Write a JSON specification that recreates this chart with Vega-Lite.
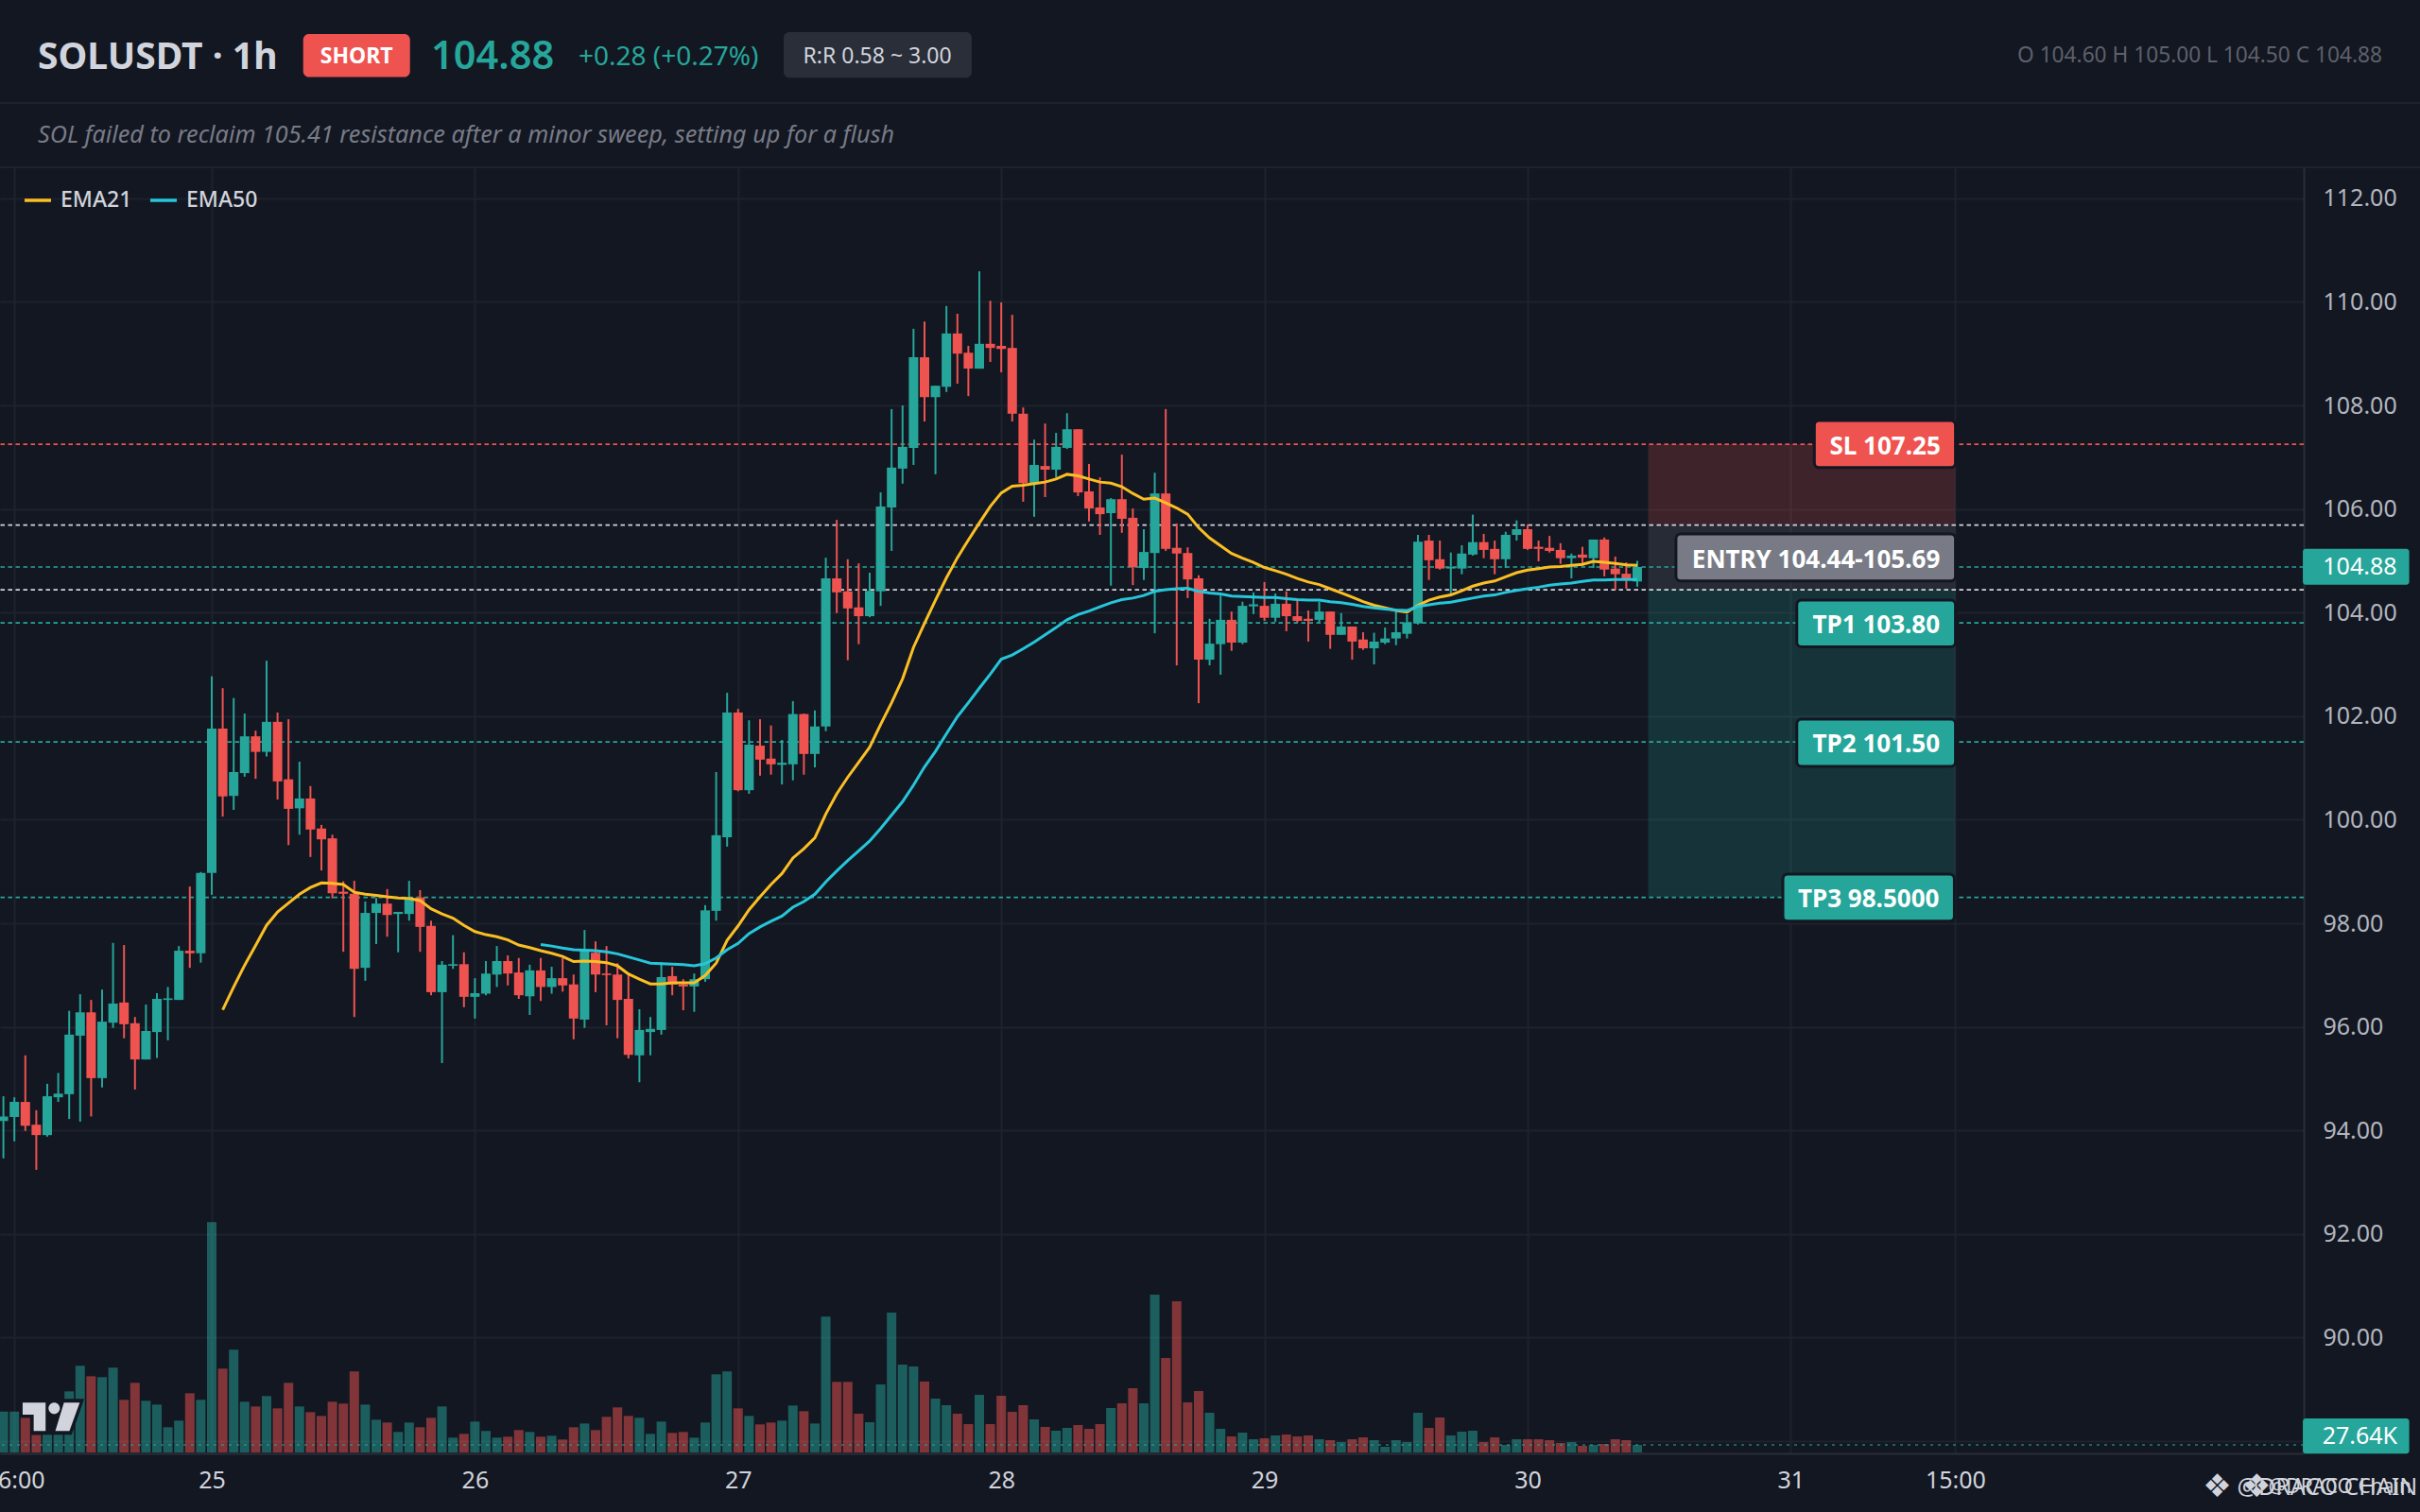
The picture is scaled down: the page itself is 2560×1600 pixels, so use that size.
{"$schema":"https://vega.github.io/schema/vega-lite/v6.json","width":2437,"height":1361,"autosize":{"type":"none"},"padding":{"left":0,"top":177,"right":123,"bottom":62},"background":"#131722","config":{"font":"Noto Sans","view":{"stroke":null}},
"title":{"text":"SOLUSDT · 1h","subtitle":"SOL failed to reclaim 105.41 resistance after a minor sweep, setting up for a flush","anchor":"start","frame":"group","dx":40,"dy":142,"offset":20,"color":"#d1d4dc","fontSize":39,"fontWeight":700,"subtitleColor":"#787b86","subtitleFontSize":25.2,"subtitleFontStyle":"italic","subtitlePadding":50},
"datasets":{"candles":[
{"hour":-19,"open":94.18,"high":94.66,"low":93.46,"close":94.27,"volume":149.5},
{"hour":-18,"open":94.26,"high":94.64,"low":93.79,"close":94.55,"volume":149.5},
{"hour":-17,"open":94.55,"high":95.45,"low":93.99,"close":94.09,"volume":126.5},
{"hour":-16,"open":94.11,"high":94.39,"low":93.24,"close":93.91,"volume":64.4},
{"hour":-15,"open":93.91,"high":94.90,"low":93.88,"close":94.66,"volume":138},
{"hour":-14,"open":94.64,"high":95.11,"low":94.55,"close":94.71,"volume":161},
{"hour":-13,"open":94.70,"high":96.31,"low":94.22,"close":95.85,"volume":223.1},
{"hour":-12,"open":95.83,"high":96.63,"low":94.17,"close":96.28,"volume":316.3},
{"hour":-11,"open":96.28,"high":96.52,"low":94.27,"close":95.01,"volume":278.3},
{"hour":-10,"open":95.01,"high":96.72,"low":94.83,"close":96.10,"volume":274.9},
{"hour":-9,"open":96.08,"high":97.62,"low":95.98,"close":96.45,"volume":309.4},
{"hour":-8,"open":96.47,"high":97.58,"low":95.78,"close":96.05,"volume":192.1},
{"hour":-7,"open":96.07,"high":96.19,"low":94.79,"close":95.37,"volume":254.2},
{"hour":-6,"open":95.37,"high":96.43,"low":95.37,"close":95.92,"volume":188.6},
{"hour":-5,"open":95.90,"high":96.65,"low":95.40,"close":96.54,"volume":174.8},
{"hour":-4,"open":96.52,"high":96.77,"low":95.74,"close":96.55,"volume":92},
{"hour":-3,"open":96.52,"high":97.56,"low":96.52,"close":97.47,"volume":116.2},
{"hour":-2,"open":97.47,"high":98.71,"low":97.14,"close":97.42,"volume":216.2},
{"hour":-1,"open":97.42,"high":98.99,"low":97.24,"close":98.97,"volume":192.1},
{"hour":0,"open":98.97,"high":102.77,"low":98.55,"close":101.76,"volume":840.7},
{"hour":1,"open":101.76,"high":102.54,"low":100.06,"close":100.45,"volume":305.9},
{"hour":2,"open":100.46,"high":102.35,"low":100.19,"close":100.92,"volume":374.9},
{"hour":3,"open":100.90,"high":102.05,"low":100.83,"close":101.61,"volume":185.2},
{"hour":4,"open":101.61,"high":101.72,"low":100.79,"close":101.31,"volume":167.9},
{"hour":5,"open":101.31,"high":103.07,"low":101.22,"close":101.89,"volume":205.9},
{"hour":6,"open":101.89,"high":102.07,"low":100.39,"close":100.74,"volume":161},
{"hour":7,"open":100.78,"high":101.94,"low":99.51,"close":100.21,"volume":254.2},
{"hour":8,"open":100.22,"high":101.12,"low":99.71,"close":100.41,"volume":167.9},
{"hour":9,"open":100.41,"high":100.65,"low":99.28,"close":99.81,"volume":147.2},
{"hour":10,"open":99.83,"high":99.90,"low":99.02,"close":99.62,"volume":133.4},
{"hour":11,"open":99.64,"high":99.71,"low":98.48,"close":98.58,"volume":185.2},
{"hour":12,"open":98.61,"high":98.81,"low":97.45,"close":98.57,"volume":178.3},
{"hour":13,"open":98.57,"high":98.82,"low":96.19,"close":97.12,"volume":295.6},
{"hour":14,"open":97.14,"high":98.42,"low":96.89,"close":98.20,"volume":174.8},
{"hour":15,"open":98.20,"high":98.49,"low":97.60,"close":98.38,"volume":119.6},
{"hour":16,"open":98.38,"high":98.66,"low":97.74,"close":98.16,"volume":109.3},
{"hour":17,"open":98.18,"high":98.22,"low":97.44,"close":98.22,"volume":74.8},
{"hour":18,"open":98.18,"high":98.82,"low":98.05,"close":98.48,"volume":109.3},
{"hour":19,"open":98.50,"high":98.64,"low":97.45,"close":97.93,"volume":92},
{"hour":20,"open":97.95,"high":98.05,"low":96.61,"close":96.67,"volume":126.5},
{"hour":21,"open":96.67,"high":97.27,"low":95.30,"close":97.20,"volume":167.9},
{"hour":22,"open":97.18,"high":97.77,"low":97.12,"close":97.21,"volume":54.1},
{"hour":23,"open":97.21,"high":97.44,"low":96.38,"close":96.58,"volume":67.9},
{"hour":24,"open":96.58,"high":96.94,"low":96.16,"close":96.65,"volume":112.7},
{"hour":25,"open":96.64,"high":97.27,"low":96.61,"close":97.03,"volume":78.2},
{"hour":26,"open":97.01,"high":97.56,"low":96.77,"close":97.27,"volume":54.1},
{"hour":27,"open":97.27,"high":97.38,"low":96.80,"close":97.03,"volume":57.5},
{"hour":28,"open":97.05,"high":97.33,"low":96.54,"close":96.61,"volume":81.7},
{"hour":29,"open":96.59,"high":97.20,"low":96.23,"close":97.09,"volume":74.8},
{"hour":30,"open":97.09,"high":97.33,"low":96.50,"close":96.77,"volume":57.5},
{"hour":31,"open":96.77,"high":97.16,"low":96.64,"close":96.94,"volume":61},
{"hour":32,"open":96.94,"high":97.33,"low":96.68,"close":96.80,"volume":47.2},
{"hour":33,"open":96.82,"high":97.01,"low":95.76,"close":96.16,"volume":92},
{"hour":34,"open":96.14,"high":97.87,"low":95.98,"close":97.49,"volume":105.8},
{"hour":35,"open":97.43,"high":97.65,"low":96.67,"close":97.01,"volume":81.7},
{"hour":36,"open":97.03,"high":97.56,"low":96.03,"close":97.00,"volume":130},
{"hour":37,"open":97.01,"high":97.23,"low":95.78,"close":96.52,"volume":164.5},
{"hour":38,"open":96.54,"high":97.00,"low":95.39,"close":95.46,"volume":133.4},
{"hour":39,"open":95.45,"high":96.34,"low":94.93,"close":95.94,"volume":126.5},
{"hour":40,"open":95.90,"high":96.19,"low":95.45,"close":95.96,"volume":67.9},
{"hour":41,"open":95.94,"high":97.25,"low":95.85,"close":96.96,"volume":112.7},
{"hour":42,"open":96.98,"high":97.16,"low":96.61,"close":96.82,"volume":71.3},
{"hour":43,"open":96.82,"high":96.92,"low":96.32,"close":96.78,"volume":74.8},
{"hour":44,"open":96.78,"high":97.03,"low":96.29,"close":96.92,"volume":54.1},
{"hour":45,"open":96.92,"high":98.35,"low":96.87,"close":98.25,"volume":109.3},
{"hour":46,"open":98.24,"high":100.92,"low":98.05,"close":99.70,"volume":285.2},
{"hour":47,"open":99.66,"high":102.45,"low":99.48,"close":102.07,"volume":295.6},
{"hour":48,"open":102.07,"high":102.14,"low":100.55,"close":100.57,"volume":161},
{"hour":49,"open":100.57,"high":101.92,"low":100.50,"close":101.45,"volume":133.4},
{"hour":50,"open":101.43,"high":101.94,"low":100.85,"close":101.16,"volume":102.4},
{"hour":51,"open":101.18,"high":101.82,"low":100.87,"close":101.07,"volume":109.3},
{"hour":52,"open":101.06,"high":101.54,"low":100.68,"close":101.10,"volume":116.2},
{"hour":53,"open":101.07,"high":102.29,"low":100.76,"close":102.04,"volume":171.4},
{"hour":54,"open":102.04,"high":102.05,"low":100.87,"close":101.27,"volume":150.7},
{"hour":55,"open":101.27,"high":102.11,"low":101.01,"close":101.80,"volume":105.8},
{"hour":56,"open":101.80,"high":105.06,"low":101.71,"close":104.66,"volume":495.7},
{"hour":57,"open":104.66,"high":105.79,"low":103.99,"close":104.39,"volume":257.6},
{"hour":58,"open":104.41,"high":105.03,"low":103.08,"close":104.08,"volume":257.6},
{"hour":59,"open":104.10,"high":104.95,"low":103.39,"close":103.93,"volume":141.5},
{"hour":60,"open":103.93,"high":104.77,"low":103.91,"close":104.42,"volume":110.4},
{"hour":61,"open":104.41,"high":106.32,"low":104.13,"close":106.05,"volume":248.4},
{"hour":62,"open":106.03,"high":107.93,"low":105.19,"close":106.80,"volume":510.6},
{"hour":63,"open":106.78,"high":108.00,"low":106.49,"close":107.20,"volume":320.9},
{"hour":64,"open":107.18,"high":109.48,"low":106.85,"close":108.93,"volume":314},
{"hour":65,"open":108.93,"high":109.62,"low":107.69,"close":108.16,"volume":258.8},
{"hour":66,"open":108.16,"high":108.38,"low":106.67,"close":108.38,"volume":196.7},
{"hour":67,"open":108.36,"high":109.92,"low":108.26,"close":109.39,"volume":172.5},
{"hour":68,"open":109.39,"high":109.77,"low":108.42,"close":109.00,"volume":141.5},
{"hour":69,"open":109.02,"high":109.15,"low":108.18,"close":108.71,"volume":103.5},
{"hour":70,"open":108.71,"high":110.59,"low":108.71,"close":109.19,"volume":210.5},
{"hour":71,"open":109.19,"high":110.02,"low":108.84,"close":109.11,"volume":103.5},
{"hour":72,"open":109.15,"high":109.99,"low":108.64,"close":109.09,"volume":207},
{"hour":73,"open":109.11,"high":109.75,"low":107.69,"close":107.84,"volume":148.4},
{"hour":74,"open":107.84,"high":107.96,"low":106.14,"close":106.50,"volume":172.5},
{"hour":75,"open":106.50,"high":107.34,"low":105.85,"close":106.85,"volume":120.8},
{"hour":76,"open":106.83,"high":107.65,"low":106.23,"close":106.76,"volume":93.2},
{"hour":77,"open":106.76,"high":107.47,"low":106.60,"close":107.20,"volume":79.4},
{"hour":78,"open":107.18,"high":107.85,"low":107.16,"close":107.54,"volume":89.7},
{"hour":79,"open":107.54,"high":107.54,"low":106.25,"close":106.32,"volume":100.1},
{"hour":80,"open":106.34,"high":106.87,"low":105.76,"close":106.01,"volume":86.3},
{"hour":81,"open":106.03,"high":106.61,"low":105.50,"close":105.90,"volume":103.5},
{"hour":82,"open":105.92,"high":106.21,"low":104.52,"close":106.19,"volume":162.2},
{"hour":83,"open":106.19,"high":107.05,"low":105.54,"close":105.81,"volume":179.4},
{"hour":84,"open":105.83,"high":106.01,"low":104.53,"close":104.88,"volume":234.6},
{"hour":85,"open":104.86,"high":105.61,"low":104.63,"close":105.17,"volume":179.4},
{"hour":86,"open":105.15,"high":106.70,"low":103.60,"close":106.30,"volume":576.2},
{"hour":87,"open":106.30,"high":107.93,"low":105.19,"close":105.23,"volume":345},
{"hour":88,"open":105.25,"high":105.72,"low":102.98,"close":105.14,"volume":552},
{"hour":89,"open":105.15,"high":105.26,"low":104.28,"close":104.64,"volume":182.9},
{"hour":90,"open":104.66,"high":104.72,"low":102.25,"close":103.09,"volume":224.3},
{"hour":91,"open":103.09,"high":103.88,"low":102.98,"close":103.40,"volume":144.9},
{"hour":92,"open":103.39,"high":104.33,"low":102.80,"close":103.86,"volume":86.3},
{"hour":93,"open":103.86,"high":104.02,"low":103.26,"close":103.42,"volume":58.7},
{"hour":94,"open":103.42,"high":104.21,"low":103.39,"close":104.13,"volume":72.5},
{"hour":95,"open":104.12,"high":104.39,"low":103.97,"close":104.16,"volume":48.3},
{"hour":96,"open":104.13,"high":104.59,"low":103.84,"close":103.90,"volume":51.8},
{"hour":97,"open":103.90,"high":104.37,"low":103.82,"close":104.17,"volume":62.1},
{"hour":98,"open":104.17,"high":104.41,"low":103.64,"close":103.93,"volume":65.6},
{"hour":99,"open":103.93,"high":104.24,"low":103.81,"close":103.84,"volume":58.7},
{"hour":100,"open":103.88,"high":104.04,"low":103.44,"close":103.84,"volume":62.1},
{"hour":101,"open":103.86,"high":104.21,"low":103.81,"close":104.02,"volume":48.3},
{"hour":102,"open":104.02,"high":104.02,"low":103.30,"close":103.57,"volume":44.9},
{"hour":103,"open":103.57,"high":103.99,"low":103.57,"close":103.73,"volume":38},
{"hour":104,"open":103.73,"high":103.73,"low":103.09,"close":103.44,"volume":48.3},
{"hour":105,"open":103.48,"high":103.62,"low":103.28,"close":103.31,"volume":55.2},
{"hour":106,"open":103.31,"high":103.61,"low":103.00,"close":103.44,"volume":44.9},
{"hour":107,"open":103.42,"high":103.71,"low":103.39,"close":103.50,"volume":20.7},
{"hour":108,"open":103.50,"high":104.02,"low":103.37,"close":103.62,"volume":44.9},
{"hour":109,"open":103.59,"high":103.97,"low":103.50,"close":103.81,"volume":38},
{"hour":110,"open":103.79,"high":105.50,"low":103.77,"close":105.37,"volume":144.9},
{"hour":111,"open":105.39,"high":105.50,"low":104.63,"close":105.01,"volume":89.7},
{"hour":112,"open":105.03,"high":105.39,"low":104.83,"close":104.85,"volume":127.7},
{"hour":113,"open":104.85,"high":105.16,"low":104.35,"close":104.88,"volume":62.1},
{"hour":114,"open":104.85,"high":105.30,"low":104.74,"close":105.14,"volume":75.9},
{"hour":115,"open":105.12,"high":105.89,"low":105.10,"close":105.36,"volume":79.4},
{"hour":116,"open":105.36,"high":105.52,"low":105.05,"close":105.21,"volume":38},
{"hour":117,"open":105.23,"high":105.39,"low":104.74,"close":105.03,"volume":55.2},
{"hour":118,"open":105.03,"high":105.56,"low":104.86,"close":105.50,"volume":27.6},
{"hour":119,"open":105.50,"high":105.78,"low":105.39,"close":105.61,"volume":48.3},
{"hour":120,"open":105.61,"high":105.70,"low":105.21,"close":105.23,"volume":48.3},
{"hour":121,"open":105.27,"high":105.39,"low":104.99,"close":105.23,"volume":48.3},
{"hour":122,"open":105.25,"high":105.48,"low":105.16,"close":105.19,"volume":44.9},
{"hour":123,"open":105.21,"high":105.34,"low":104.94,"close":105.05,"volume":34.5},
{"hour":124,"open":105.05,"high":105.14,"low":104.66,"close":105.10,"volume":38},
{"hour":125,"open":105.12,"high":105.27,"low":104.90,"close":105.06,"volume":24.2},
{"hour":126,"open":105.05,"high":105.41,"low":104.86,"close":105.41,"volume":27.6},
{"hour":127,"open":105.41,"high":105.45,"low":104.70,"close":104.83,"volume":31.1},
{"hour":128,"open":104.85,"high":105.08,"low":104.44,"close":104.74,"volume":48.3},
{"hour":129,"open":104.75,"high":104.97,"low":104.46,"close":104.64,"volume":44.9},
{"hour":130,"open":104.60,"high":105.00,"low":104.50,"close":104.88,"volume":27.64}
],
"ema":[
{"hour":1,"EMA21":96.33,"EMA50":null},{"hour":2,"EMA21":96.77,"EMA50":null},{"hour":3,"EMA21":97.19,"EMA50":null},{"hour":4,"EMA21":97.57,"EMA50":null},{"hour":5,"EMA21":97.96,"EMA50":null},{"hour":6,"EMA21":98.22,"EMA50":null},{"hour":7,"EMA21":98.39,"EMA50":null},{"hour":8,"EMA21":98.56,"EMA50":null},{"hour":9,"EMA21":98.69,"EMA50":null},{"hour":10,"EMA21":98.78,"EMA50":null},{"hour":11,"EMA21":98.77,"EMA50":null},{"hour":12,"EMA21":98.75,"EMA50":null},{"hour":13,"EMA21":98.60,"EMA50":null},{"hour":14,"EMA21":98.56,"EMA50":null},{"hour":15,"EMA21":98.54,"EMA50":null},{"hour":16,"EMA21":98.51,"EMA50":null},{"hour":17,"EMA21":98.49,"EMA50":null},{"hour":18,"EMA21":98.48,"EMA50":null},{"hour":19,"EMA21":98.44,"EMA50":null},{"hour":20,"EMA21":98.28,"EMA50":null},{"hour":21,"EMA21":98.18,"EMA50":null},{"hour":22,"EMA21":98.10,"EMA50":null},{"hour":23,"EMA21":97.96,"EMA50":null},{"hour":24,"EMA21":97.84,"EMA50":null},{"hour":25,"EMA21":97.78,"EMA50":null},{"hour":26,"EMA21":97.74,"EMA50":null},{"hour":27,"EMA21":97.68,"EMA50":null},{"hour":28,"EMA21":97.58,"EMA50":null},{"hour":29,"EMA21":97.53,"EMA50":null},
{"hour":30,"EMA21":97.47,"EMA50":97.59},{"hour":31,"EMA21":97.42,"EMA50":97.56},{"hour":32,"EMA21":97.36,"EMA50":97.52},{"hour":33,"EMA21":97.26,"EMA50":97.49},{"hour":34,"EMA21":97.27,"EMA50":97.48},{"hour":35,"EMA21":97.26,"EMA50":97.47},{"hour":36,"EMA21":97.24,"EMA50":97.45},{"hour":37,"EMA21":97.18,"EMA50":97.41},{"hour":38,"EMA21":97.02,"EMA50":97.35},{"hour":39,"EMA21":96.92,"EMA50":97.29},{"hour":40,"EMA21":96.83,"EMA50":97.23},{"hour":41,"EMA21":96.83,"EMA50":97.22},{"hour":42,"EMA21":96.85,"EMA50":97.21},{"hour":43,"EMA21":96.85,"EMA50":97.20},{"hour":44,"EMA21":96.85,"EMA50":97.18},{"hour":45,"EMA21":96.99,"EMA50":97.22},{"hour":46,"EMA21":97.23,"EMA50":97.33},{"hour":47,"EMA21":97.67,"EMA50":97.49},{"hour":48,"EMA21":97.95,"EMA50":97.61},{"hour":49,"EMA21":98.26,"EMA50":97.80},{"hour":50,"EMA21":98.51,"EMA50":97.93},{"hour":51,"EMA21":98.75,"EMA50":98.04},{"hour":52,"EMA21":98.96,"EMA50":98.14},{"hour":53,"EMA21":99.26,"EMA50":98.31},{"hour":54,"EMA21":99.44,"EMA50":98.42},{"hour":55,"EMA21":99.65,"EMA50":98.56},{"hour":56,"EMA21":100.11,"EMA50":98.80},{"hour":57,"EMA21":100.50,"EMA50":99.01},{"hour":58,"EMA21":100.82,"EMA50":99.21},{"hour":59,"EMA21":101.11,"EMA50":99.40},{"hour":60,"EMA21":101.40,"EMA50":99.59},{"hour":61,"EMA21":101.84,"EMA50":99.83},{"hour":62,"EMA21":102.26,"EMA50":100.09},{"hour":63,"EMA21":102.72,"EMA50":100.35},{"hour":64,"EMA21":103.33,"EMA50":100.67},{"hour":65,"EMA21":103.79,"EMA50":101.02},{"hour":66,"EMA21":104.24,"EMA50":101.32},{"hour":67,"EMA21":104.67,"EMA50":101.66},{"hour":68,"EMA21":105.06,"EMA50":101.99},{"hour":69,"EMA21":105.40,"EMA50":102.26},{"hour":70,"EMA21":105.73,"EMA50":102.54},{"hour":71,"EMA21":106.05,"EMA50":102.81},{"hour":72,"EMA21":106.31,"EMA50":103.10},{"hour":73,"EMA21":106.44,"EMA50":103.18},{"hour":74,"EMA21":106.46,"EMA50":103.30},{"hour":75,"EMA21":106.49,"EMA50":103.43},{"hour":76,"EMA21":106.52,"EMA50":103.57},{"hour":77,"EMA21":106.58,"EMA50":103.71},{"hour":78,"EMA21":106.67,"EMA50":103.86},{"hour":79,"EMA21":106.64,"EMA50":103.96},{"hour":80,"EMA21":106.58,"EMA50":104.03},{"hour":81,"EMA21":106.52,"EMA50":104.11},{"hour":82,"EMA21":106.50,"EMA50":104.19},{"hour":83,"EMA21":106.43,"EMA50":104.25},{"hour":84,"EMA21":106.30,"EMA50":104.28},{"hour":85,"EMA21":106.19,"EMA50":104.33},{"hour":86,"EMA21":106.21,"EMA50":104.41},{"hour":87,"EMA21":106.12,"EMA50":104.44},{"hour":88,"EMA21":106.02,"EMA50":104.46},{"hour":89,"EMA21":105.90,"EMA50":104.47},{"hour":90,"EMA21":105.64,"EMA50":104.41},{"hour":91,"EMA21":105.44,"EMA50":104.38},{"hour":92,"EMA21":105.29,"EMA50":104.36},{"hour":93,"EMA21":105.14,"EMA50":104.32},{"hour":94,"EMA21":105.05,"EMA50":104.31},{"hour":95,"EMA21":104.97,"EMA50":104.30},{"hour":96,"EMA21":104.87,"EMA50":104.29},{"hour":97,"EMA21":104.81,"EMA50":104.29},{"hour":98,"EMA21":104.74,"EMA50":104.27},{"hour":99,"EMA21":104.66,"EMA50":104.25},{"hour":100,"EMA21":104.59,"EMA50":104.24},{"hour":101,"EMA21":104.54,"EMA50":104.24},{"hour":102,"EMA21":104.46,"EMA50":104.21},{"hour":103,"EMA21":104.38,"EMA50":104.19},{"hour":104,"EMA21":104.30,"EMA50":104.16},{"hour":105,"EMA21":104.21,"EMA50":104.12},{"hour":106,"EMA21":104.14,"EMA50":104.09},{"hour":107,"EMA21":104.09,"EMA50":104.07},{"hour":108,"EMA21":104.04,"EMA50":104.05},{"hour":109,"EMA21":104.01,"EMA50":104.04},{"hour":110,"EMA21":104.14,"EMA50":104.12},{"hour":111,"EMA21":104.24,"EMA50":104.15},{"hour":112,"EMA21":104.30,"EMA50":104.18},{"hour":113,"EMA21":104.34,"EMA50":104.20},{"hour":114,"EMA21":104.42,"EMA50":104.24},{"hour":115,"EMA21":104.51,"EMA50":104.28},{"hour":116,"EMA21":104.57,"EMA50":104.32},{"hour":117,"EMA21":104.61,"EMA50":104.34},{"hour":118,"EMA21":104.69,"EMA50":104.39},{"hour":119,"EMA21":104.77,"EMA50":104.43},{"hour":120,"EMA21":104.82,"EMA50":104.46},{"hour":121,"EMA21":104.85,"EMA50":104.49},{"hour":122,"EMA21":104.88,"EMA50":104.53},{"hour":123,"EMA21":104.89,"EMA50":104.55},{"hour":124,"EMA21":104.91,"EMA50":104.57},{"hour":125,"EMA21":104.93,"EMA50":104.60},{"hour":126,"EMA21":104.99,"EMA50":104.63},{"hour":127,"EMA21":104.97,"EMA50":104.63},{"hour":128,"EMA21":104.95,"EMA50":104.64},{"hour":129,"EMA21":104.92,"EMA50":104.64},{"hour":130,"EMA21":104.91,"EMA50":104.64}
],
"zones":[
{"hour":131,"hour2":159,"price":107.25,"price2":105.69,"tone":"sl"},
{"hour":131,"hour2":159,"price":105.69,"price2":104.44,"tone":"entry"},
{"hour":131,"hour2":159,"price":104.44,"price2":98.5,"tone":"tp"}
],
"levels":[
{"price":107.25,"tone":"sl"},{"price":105.69,"tone":"line"},{"price":104.44,"tone":"line"},{"price":104.88,"tone":"tp"},{"price":103.8,"tone":"tp"},{"price":101.5,"tone":"tp"},{"price":98.5,"tone":"tp"}
],
"boxes":[
{"hour":146.15,"hour2":159.02,"price":107.71,"price2":106.80,"tone":"sl","label":"SL 107.25","labelHour":152.6,"labelPrice":107.25},
{"hour":133.53,"hour2":159.02,"price":105.52,"price2":104.61,"tone":"entry","label":"ENTRY 104.44-105.69","labelHour":146.3,"labelPrice":105.06},
{"hour":144.55,"hour2":159.02,"price":104.24,"price2":103.34,"tone":"tp","label":"TP1 103.80","labelHour":151.8,"labelPrice":103.8},
{"hour":144.55,"hour2":159.02,"price":101.94,"price2":101.03,"tone":"tp","label":"TP2 101.50","labelHour":151.8,"labelPrice":101.5},
{"hour":143.28,"hour2":158.92,"price":98.95,"price2":98.04,"tone":"tp","label":"TP3 98.5000","labelHour":151.1,"labelPrice":98.5}
],
"tags":[
{"hour":190.7,"hour2":200.4,"price":105.23,"price2":104.54,"tone":"tp","label":"104.88","labelHour":195.9,"labelPrice":104.88},
{"hour":190.7,"hour2":200.4,"price":88.44,"price2":87.76,"tone":"tp","label":"27.64K","labelHour":195.9,"labelPrice":88.09}
],
"headerBoxes":[
{"hour":8.34,"hour2":18.08,"price":115.17,"price2":114.34,"tone":"sl","label":"SHORT","labelHour":13.2,"labelPrice":114.73},
{"hour":52.16,"hour2":69.31,"price":115.21,"price2":114.33,"tone":"rr","label":"R:R 0.58 ~ 3.00","labelHour":60.7,"labelPrice":114.73}
],
"rules":[{"hour":-19.31,"hour2":201.4,"price":113.84},{"hour":-19.31,"hour2":201.4,"price":112.6}]
},
"encoding":{"x":{"field":"hour","type":"quantitative","scale":{"domain":[-19.31,190.78],"nice":false,"zero":false,"padding":0},"axis":{"title":null,"values":[-18,0,24,48,72,96,120,144,159],"labelExpr":"{'-18':'06:00','0':'25','24':'26','48':'27','72':'28','96':'29','120':'30','144':'31','159':'15:00'}[datum.value]","grid":true,"gridColor":"#1e222d","gridWidth":2,"domainColor":"#2a2e39","domainWidth":2,"ticks":false,"labelColor":"#d1d4dc","labelFontSize":25,"labelPadding":16,"labelOverlap":false,"labelBound":false,"labelFlush":false}},
"y":{"field":"price","type":"quantitative","scale":{"domain":[87.763,112.599],"nice":false,"zero":false},"axis":null}},
"layer":[
{"data":{"name":"zones"},"mark":{"type":"rect","opacity":0.2},"encoding":{"x2":{"field":"hour2"},"y":{"field":"price","type":"quantitative","axis":{"title":null,"orient":"right","values":[88,90,92,94,96,98,100,102,104,106,108,110,112],"labelExpr":"datum.value==88?'':format(datum.value,'.2f')","grid":true,"gridColor":"#1e222d","gridWidth":2,"domainColor":"#2a2e39","domainWidth":2,"ticks":false,"labelColor":"#b2b5be","labelFontSize":25,"labelPadding":20,"labelAlign":"left"}},"y2":{"field":"price2"},"color":{"field":"tone","type":"nominal","scale":{"domain":["sl","entry","tp","line","rr"],"range":["#ef5350","#787b86","#26a69a","#d1d4dc","#2a2e39"]},"legend":null}}},
{"data":{"name":"candles"},"mark":{"type":"bar","orient":"vertical","size":10,"opacity":0.5},"encoding":{"y":{"field":"volume","type":"quantitative","stack":null,"scale":{"domain":[-3.45,4692],"nice":false,"zero":false},"axis":null},"y2":{"datum":0},"color":{"condition":{"test":"datum.close>=datum.open","value":"#26a69a"},"value":"#ef5350"}}},
{"data":{"values":[{"volume":27.64}]},"mark":{"type":"rule","stroke":"#26a69a","strokeWidth":1.6,"strokeDash":[3,5],"opacity":0.7},"encoding":{"x":null,"y":{"field":"volume","type":"quantitative","scale":{"domain":[-3.45,4692],"nice":false,"zero":false},"axis":null}}},
{"data":{"name":"levels"},"mark":{"type":"rule","strokeWidth":1.7,"strokeDash":[4.5,3.5]},"encoding":{"x":null,"color":{"field":"tone","type":"nominal","scale":{"domain":["sl","entry","tp","line","rr"],"range":["#ef5350","#787b86","#26a69a","#d1d4dc","#2a2e39"]},"legend":null}}},
{"data":{"name":"candles"},"mark":{"type":"rule","strokeWidth":2},"encoding":{"y":{"field":"low","type":"quantitative"},"y2":{"field":"high"},"color":{"condition":{"test":"datum.close>=datum.open","value":"#26a69a"},"value":"#ef5350"}}},
{"data":{"name":"candles"},"mark":{"type":"bar","orient":"vertical","size":10},"encoding":{"y":{"field":"open","type":"quantitative"},"y2":{"field":"close"},"color":{"condition":{"test":"datum.close>=datum.open","value":"#26a69a"},"value":"#ef5350"}}},
{"data":{"name":"ema"},"transform":[{"fold":["EMA21","EMA50"],"as":["series","price"]},{"filter":"isValid(datum.price)"}],"mark":{"type":"line","strokeWidth":3,"interpolate":"linear"},"encoding":{"stroke":{"field":"series","type":"nominal","scale":{"domain":["EMA21","EMA50"],"range":["#fbbf24","#26c6da"]},"legend":{"orient":"none","legendX":24,"legendY":19,"direction":"horizontal","title":null,"symbolType":"stroke","symbolStrokeWidth":3.5,"symbolSize":784,"labelColor":"#d1d4dc","labelFontSize":23,"labelFontWeight":500,"labelOffset":8,"columnPadding":12,"columns":2}}}},
{"data":{"name":"boxes"},"mark":{"type":"rect","cornerRadius":5,"stroke":"#131722","strokeWidth":3},"encoding":{"x2":{"field":"hour2"},"y2":{"field":"price2"},"color":{"field":"tone","type":"nominal","scale":{"domain":["sl","entry","tp","line","rr"],"range":["#ef5350","#787b86","#26a69a","#d1d4dc","#2a2e39"]},"legend":null}}},
{"data":{"name":"boxes"},"mark":{"type":"text","color":"#ffffff","fontSize":26,"fontWeight":700,"align":"center","baseline":"middle","dy":2.5},"encoding":{"x":{"field":"labelHour","type":"quantitative"},"y":{"field":"labelPrice","type":"quantitative"},"text":{"field":"label"}}},
{"data":{"name":"tags"},"mark":{"type":"rect","cornerRadius":3},"encoding":{"x2":{"field":"hour2"},"y2":{"field":"price2"},"color":{"field":"tone","type":"nominal","scale":{"domain":["sl","entry","tp","line","rr"],"range":["#ef5350","#787b86","#26a69a","#d1d4dc","#2a2e39"]},"legend":null}}},
{"data":{"name":"tags"},"mark":{"type":"text","color":"#ffffff","fontSize":25,"align":"center","baseline":"middle"},"encoding":{"x":{"field":"labelHour","type":"quantitative"},"y":{"field":"labelPrice","type":"quantitative"},"text":{"field":"label"}}},
{"data":{"name":"rules"},"mark":{"type":"rule","stroke":"#1e222d","strokeWidth":2},"encoding":{"x2":{"field":"hour2"}}},
{"data":{"name":"headerBoxes"},"mark":{"type":"rect","cornerRadius":6},"encoding":{"x2":{"field":"hour2"},"y2":{"field":"price2"},"color":{"field":"tone","type":"nominal","scale":{"domain":["sl","entry","tp","line","rr"],"range":["#ef5350","#787b86","#26a69a","#d1d4dc","#2a2e39"]},"legend":null}}},
{"data":{"values":[{"hour":13.2,"price":114.73,"label":"SHORT"}]},"mark":{"type":"text","color":"#ffffff","fontSize":23,"fontWeight":700,"align":"center","baseline":"middle"},"encoding":{"text":{"field":"label"}}},
{"data":{"values":[{"hour":60.7,"price":114.73,"label":"R:R 0.58 ~ 3.00"}]},"mark":{"type":"text","color":"#d1d4dc","fontSize":23,"align":"center","baseline":"middle"},"encoding":{"text":{"field":"label"}}},
{"data":{"values":[{"hour":20.0,"price":114.72,"label":"104.88"}]},"mark":{"type":"text","color":"#26a69a","fontSize":41.5,"fontWeight":600,"align":"left","baseline":"middle"},"encoding":{"text":{"field":"label"}}},
{"data":{"values":[{"hour":33.45,"price":114.71,"label":"+0.28 (+0.27%)"}]},"mark":{"type":"text","color":"#26a69a","fontSize":28,"align":"left","baseline":"middle"},"encoding":{"text":{"field":"label"}}},
{"data":{"values":[{"hour":197.93,"price":114.75,"label":"O 104.60 H 105.00 L 104.50 C 104.88"}]},"mark":{"type":"text","color":"#5d606b","fontSize":22.7,"align":"right","baseline":"middle"},"encoding":{"text":{"field":"label"}}},
{"data":{"values":[{"hour":-14.66,"price":88.47}]},"mark":{"type":"point","filled":true,"size":3600,"opacity":1,"color":"#131722","shape":"M-1.07 -0.63 L1.17 -0.63 L0.73 0.63 L-0.7 0.63 L-0.7 -0.05 L-1.07 -0.05 Z"}},
{"data":{"values":[{"hour":-14.66,"price":88.47}]},"mark":{"type":"point","filled":true,"size":3600,"opacity":1,"color":"#d1d4dc","shape":"M-1 -0.5 H-0.19 V0.5 H-0.61 V-0.077 H-1 Z M-0.087 -0.3 a0.2 0.2 0 1 0 0.4 0 a0.2 0.2 0 1 0 -0.4 0 Z M0.457 -0.5 H1.013 L0.65 0.5 H0.153 Z"}},
{"data":{"values":[{"hour":182.9,"price":87.11,"label":"❖"},{"hour":186.5,"price":87.11,"label":"❖"}]},"mark":{"type":"text","color":"#d1d4dc","font":"DejaVu Sans","fontSize":34,"align":"center","baseline":"middle"},"encoding":{"text":{"field":"label"}}},
{"data":{"values":[{"hour":184.7,"price":87.11,"label":"@DRACO CHAIN"}]},"mark":{"type":"text","color":"#d1d4dc","fontSize":25,"align":"left","baseline":"middle"},"encoding":{"text":{"field":"label"}}},
{"data":{"values":[{"hour":200.6,"price":87.11,"label":"@DRACO Chain"}]},"mark":{"type":"text","color":"#d1d4dc","fontSize":21,"align":"right","baseline":"middle"},"encoding":{"text":{"field":"label"}}}
],
"resolve":{"scale":{"y":"independent"}}
}
